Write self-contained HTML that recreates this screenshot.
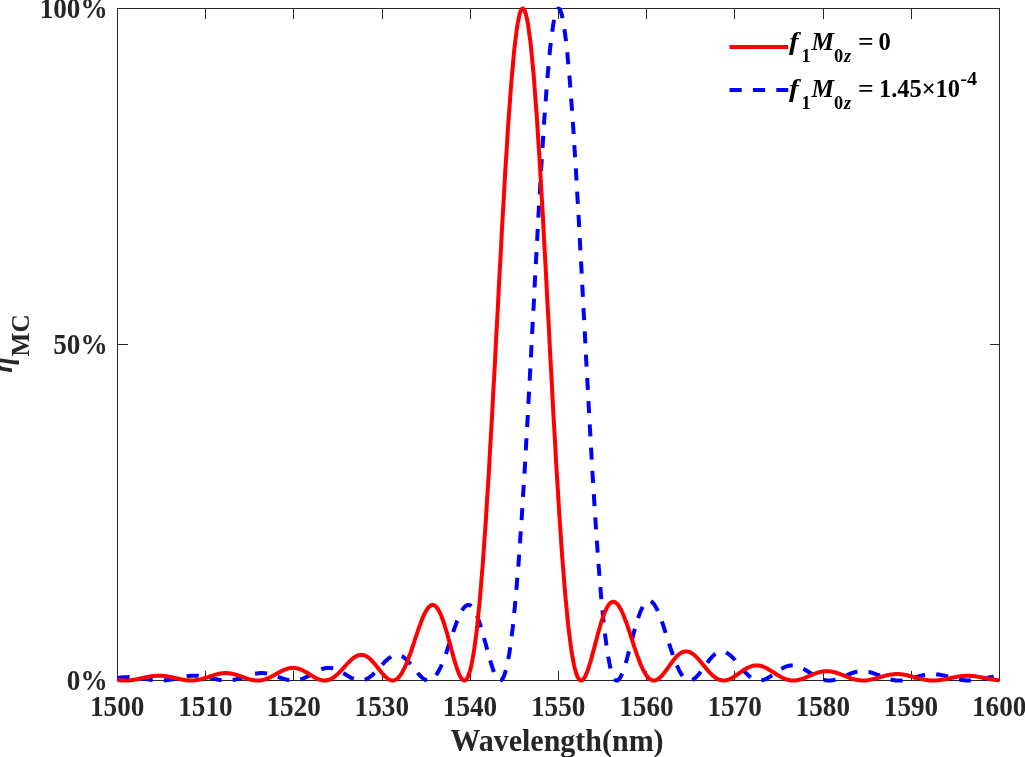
<!DOCTYPE html>
<html lang="en"><head><meta charset="utf-8"><title>Mode conversion efficiency vs wavelength</title>
<style>html,body{margin:0;padding:0;background:#fff;overflow:hidden}svg{display:block}text{font-family:"Liberation Serif",serif;font-weight:bold;fill:#262626}.i{font-style:italic}</style></head><body>
<svg width="1025" height="757" viewBox="0 0 1025 757">
<rect width="1025" height="757" fill="#fff"/>
<defs><clipPath id="cp"><rect x="115.5" y="5.5" width="884.5" height="678.0"/></clipPath></defs>
<g stroke="#262626" stroke-width="1" fill="none" shape-rendering="crispEdges">
<rect x="117.5" y="8.5" width="882.0" height="672.0"/>
<path d="M205.5,680.5v-10 M205.5,8.5v10 M293.5,680.5v-10 M293.5,8.5v10 M382.5,680.5v-10 M382.5,8.5v10 M470.5,680.5v-10 M470.5,8.5v10 M558.5,680.5v-10 M558.5,8.5v10 M646.5,680.5v-10 M646.5,8.5v10 M734.5,680.5v-10 M734.5,8.5v10 M823.5,680.5v-10 M823.5,8.5v10 M911.5,680.5v-10 M911.5,8.5v10 M117.5,344.5h10 M999.5,344.5h-10"/>
</g>
<g fill="none" stroke-width="4" stroke-linejoin="round" clip-path="url(#cp)">
<path stroke="#0000ff" stroke-dasharray="12.1 11.2" d="M117.5,678.0 L118.2,677.9 L119.0,677.8 L119.8,677.7 L120.5,677.6 L121.2,677.6 L122.0,677.5 L122.8,677.4 L123.5,677.3 L124.2,677.3 L125.0,677.3 L125.8,677.2 L126.5,677.2 L127.2,677.2 L128.0,677.2 L128.8,677.1 L129.5,677.2 L130.2,677.2 L131.0,677.2 L131.8,677.2 L132.5,677.3 L133.2,677.3 L134.0,677.4 L134.8,677.4 L135.5,677.5 L136.2,677.6 L137.0,677.7 L137.8,677.7 L138.5,677.8 L139.2,677.9 L140.0,678.0 L140.8,678.2 L141.5,678.3 L142.2,678.4 L143.0,678.5 L143.8,678.6 L144.5,678.7 L145.2,678.9 L146.0,679.0 L146.8,679.1 L147.5,679.2 L148.2,679.4 L149.0,679.5 L149.8,679.6 L150.5,679.7 L151.2,679.8 L152.0,679.9 L152.8,680.0 L153.5,680.1 L154.2,680.2 L155.0,680.2 L155.8,680.3 L156.5,680.4 L157.2,680.4 L158.0,680.4 L158.8,680.5 L159.5,680.5 L160.2,680.5 L161.0,680.5 L161.8,680.5 L162.5,680.5 L163.2,680.4 L164.0,680.4 L164.8,680.3 L165.5,680.3 L166.2,680.2 L167.0,680.1 L167.8,680.0 L168.5,679.9 L169.2,679.8 L170.0,679.7 L170.8,679.6 L171.5,679.5 L172.2,679.3 L173.0,679.2 L173.8,679.0 L174.5,678.9 L175.2,678.7 L176.0,678.6 L176.8,678.4 L177.5,678.2 L178.2,678.1 L179.0,677.9 L179.8,677.7 L180.5,677.6 L181.2,677.4 L182.0,677.2 L182.8,677.1 L183.5,676.9 L184.2,676.8 L185.0,676.7 L185.8,676.5 L186.5,676.4 L187.2,676.3 L188.0,676.2 L188.8,676.1 L189.5,676.0 L190.2,675.9 L191.0,675.8 L191.8,675.8 L192.5,675.7 L193.2,675.7 L194.0,675.7 L194.8,675.7 L195.5,675.7 L196.2,675.7 L197.0,675.7 L197.8,675.8 L198.5,675.8 L199.2,675.9 L200.0,676.0 L200.8,676.0 L201.5,676.1 L202.2,676.2 L203.0,676.4 L203.8,676.5 L204.5,676.6 L205.2,676.8 L206.0,676.9 L206.8,677.1 L207.5,677.2 L208.2,677.4 L209.0,677.6 L209.8,677.7 L210.5,677.9 L211.2,678.1 L212.0,678.3 L212.8,678.5 L213.5,678.6 L214.2,678.8 L215.0,679.0 L215.8,679.1 L216.5,679.3 L217.2,679.5 L218.0,679.6 L218.8,679.7 L219.5,679.9 L220.2,680.0 L221.0,680.1 L221.8,680.2 L222.5,680.3 L223.2,680.3 L224.0,680.4 L224.8,680.4 L225.5,680.5 L226.2,680.5 L227.0,680.5 L227.8,680.5 L228.5,680.5 L229.2,680.4 L230.0,680.4 L230.8,680.3 L231.5,680.2 L232.2,680.1 L233.0,680.0 L233.8,679.8 L234.5,679.7 L235.2,679.5 L236.0,679.4 L236.8,679.2 L237.5,679.0 L238.2,678.8 L239.0,678.6 L239.8,678.4 L240.5,678.1 L241.2,677.9 L242.0,677.7 L242.8,677.4 L243.5,677.2 L244.2,676.9 L245.0,676.7 L245.8,676.4 L246.5,676.2 L247.2,675.9 L248.0,675.7 L248.8,675.4 L249.5,675.2 L250.2,675.0 L251.0,674.7 L251.8,674.5 L252.5,674.3 L253.2,674.1 L254.0,674.0 L254.8,673.8 L255.5,673.7 L256.2,673.5 L257.0,673.4 L257.8,673.3 L258.5,673.2 L259.2,673.2 L260.0,673.1 L260.8,673.1 L261.5,673.1 L262.2,673.1 L263.0,673.1 L263.8,673.2 L264.5,673.2 L265.2,673.3 L266.0,673.4 L266.8,673.5 L267.5,673.7 L268.2,673.8 L269.0,674.0 L269.8,674.2 L270.5,674.4 L271.2,674.6 L272.0,674.8 L272.8,675.0 L273.5,675.3 L274.2,675.5 L275.0,675.8 L275.8,676.0 L276.5,676.3 L277.2,676.6 L278.0,676.9 L278.8,677.1 L279.5,677.4 L280.2,677.7 L281.0,677.9 L281.8,678.2 L282.5,678.5 L283.2,678.7 L284.0,678.9 L284.8,679.2 L285.5,679.4 L286.2,679.6 L287.0,679.7 L287.8,679.9 L288.5,680.1 L289.2,680.2 L290.0,680.3 L290.8,680.4 L291.5,680.4 L292.2,680.5 L293.0,680.5 L293.8,680.5 L294.5,680.5 L295.2,680.4 L296.0,680.3 L296.8,680.2 L297.5,680.1 L298.2,680.0 L299.0,679.8 L299.8,679.6 L300.5,679.4 L301.2,679.1 L302.0,678.9 L302.8,678.6 L303.5,678.3 L304.2,678.0 L305.0,677.6 L305.8,677.3 L306.5,676.9 L307.2,676.5 L308.0,676.1 L308.8,675.7 L309.5,675.3 L310.2,674.9 L311.0,674.5 L311.8,674.1 L312.5,673.7 L313.2,673.2 L314.0,672.8 L314.8,672.4 L315.5,672.0 L316.2,671.6 L317.0,671.2 L317.8,670.9 L318.5,670.5 L319.2,670.2 L320.0,669.8 L320.8,669.5 L321.5,669.2 L322.2,669.0 L323.0,668.7 L323.8,668.5 L324.5,668.4 L325.2,668.2 L326.0,668.1 L326.8,668.0 L327.5,667.9 L328.2,667.9 L329.0,667.9 L329.8,667.9 L330.5,668.0 L331.2,668.0 L332.0,668.2 L332.8,668.3 L333.5,668.5 L334.2,668.7 L335.0,668.9 L335.8,669.2 L336.5,669.5 L337.2,669.8 L338.0,670.2 L338.8,670.5 L339.5,670.9 L340.2,671.3 L341.0,671.7 L341.8,672.2 L342.5,672.6 L343.2,673.1 L344.0,673.5 L344.8,674.0 L345.5,674.4 L346.2,674.9 L347.0,675.4 L347.8,675.8 L348.5,676.3 L349.2,676.7 L350.0,677.2 L350.8,677.6 L351.5,678.0 L352.2,678.4 L353.0,678.7 L353.8,679.0 L354.5,679.3 L355.2,679.6 L356.0,679.8 L356.8,680.0 L357.5,680.2 L358.2,680.3 L359.0,680.4 L359.8,680.5 L360.5,680.5 L361.2,680.5 L362.0,680.4 L362.8,680.3 L363.5,680.1 L364.2,679.9 L365.0,679.6 L365.8,679.4 L366.5,679.0 L367.2,678.6 L368.0,678.2 L368.8,677.7 L369.5,677.2 L370.2,676.7 L371.0,676.1 L371.8,675.5 L372.5,674.8 L373.2,674.1 L374.0,673.4 L374.8,672.7 L375.5,671.9 L376.2,671.2 L377.0,670.4 L377.8,669.6 L378.5,668.7 L379.2,667.9 L380.0,667.1 L380.8,666.2 L381.5,665.4 L382.2,664.6 L383.0,663.8 L383.8,663.0 L384.5,662.2 L385.2,661.5 L386.0,660.7 L386.8,660.0 L387.5,659.4 L388.2,658.7 L389.0,658.1 L389.8,657.6 L390.5,657.1 L391.2,656.6 L392.0,656.2 L392.8,655.8 L393.5,655.5 L394.2,655.3 L395.0,655.1 L395.8,654.9 L396.5,654.9 L397.2,654.9 L398.0,654.9 L398.8,655.0 L399.5,655.2 L400.2,655.4 L401.0,655.7 L401.8,656.1 L402.5,656.5 L403.2,657.0 L404.0,657.5 L404.8,658.1 L405.5,658.7 L406.2,659.4 L407.0,660.1 L407.8,660.9 L408.5,661.7 L409.2,662.5 L410.0,663.4 L410.8,664.3 L411.5,665.2 L412.2,666.1 L413.0,667.1 L413.8,668.0 L414.5,669.0 L415.2,670.0 L416.0,670.9 L416.8,671.8 L417.5,672.7 L418.2,673.6 L419.0,674.5 L419.8,675.3 L420.5,676.1 L421.2,676.8 L422.0,677.5 L422.8,678.1 L423.5,678.7 L424.2,679.2 L425.0,679.6 L425.8,680.0 L426.5,680.2 L427.2,680.4 L428.0,680.5 L428.8,680.5 L429.5,680.4 L430.2,680.2 L431.0,679.9 L431.8,679.5 L432.5,679.0 L433.2,678.4 L434.0,677.7 L434.8,676.9 L435.5,676.0 L436.2,675.0 L437.0,673.8 L437.8,672.6 L438.5,671.3 L439.2,669.9 L440.0,668.4 L440.8,666.8 L441.5,665.1 L442.2,663.3 L443.0,661.5 L443.8,659.5 L444.5,657.6 L445.2,655.5 L446.0,653.4 L446.8,651.3 L447.5,649.1 L448.2,646.9 L449.0,644.6 L449.8,642.4 L450.5,640.1 L451.2,637.8 L452.0,635.6 L452.8,633.3 L453.5,631.1 L454.2,629.0 L455.0,626.8 L455.8,624.7 L456.5,622.7 L457.2,620.8 L458.0,618.9 L458.8,617.1 L459.5,615.4 L460.2,613.8 L461.0,612.3 L461.8,611.0 L462.5,609.7 L463.2,608.6 L464.0,607.6 L464.8,606.8 L465.5,606.1 L466.2,605.6 L467.0,605.2 L467.8,605.0 L468.5,605.0 L469.2,605.1 L470.0,605.3 L470.8,605.8 L471.5,606.4 L472.2,607.2 L473.0,608.1 L473.8,609.2 L474.5,610.5 L475.2,611.9 L476.0,613.5 L476.8,615.2 L477.5,617.1 L478.2,619.1 L479.0,621.2 L479.8,623.5 L480.5,625.8 L481.2,628.2 L482.0,630.8 L482.8,633.4 L483.5,636.0 L484.2,638.8 L485.0,641.5 L485.8,644.3 L486.5,647.1 L487.2,649.9 L488.0,652.6 L488.8,655.4 L489.5,658.0 L490.2,660.7 L491.0,663.2 L491.8,665.6 L492.5,667.9 L493.2,670.0 L494.0,672.1 L494.8,673.9 L495.5,675.5 L496.2,677.0 L497.0,678.2 L497.8,679.2 L498.5,679.9 L499.2,680.3 L500.0,680.5 L500.8,680.4 L501.5,679.9 L502.2,679.1 L503.0,678.0 L503.8,676.5 L504.5,674.6 L505.2,672.4 L506.0,669.7 L506.8,666.7 L507.5,663.2 L508.2,659.4 L509.0,655.1 L509.8,650.4 L510.5,645.2 L511.2,639.7 L512.0,633.6 L512.8,627.2 L513.5,620.3 L514.2,612.9 L515.0,605.2 L515.8,597.0 L516.5,588.3 L517.2,579.3 L518.0,569.9 L518.8,560.0 L519.5,549.8 L520.2,539.1 L521.0,528.2 L521.8,516.8 L522.5,505.2 L523.2,493.2 L524.0,480.9 L524.8,468.3 L525.5,455.5 L526.2,442.4 L527.0,429.1 L527.8,415.6 L528.5,401.9 L529.2,388.0 L530.0,374.1 L530.8,360.0 L531.5,345.9 L532.2,331.7 L533.0,317.5 L533.8,303.3 L534.5,289.1 L535.2,275.0 L536.0,261.0 L536.8,247.0 L537.5,233.3 L538.2,219.7 L539.0,206.3 L539.8,193.2 L540.5,180.3 L541.2,167.7 L542.0,155.4 L542.8,143.4 L543.5,131.8 L544.2,120.6 L545.0,109.9 L545.8,99.5 L546.5,89.6 L547.2,80.2 L548.0,71.3 L548.8,62.9 L549.5,55.1 L550.2,47.8 L551.0,41.1 L551.8,35.0 L552.5,29.5 L553.2,24.7 L554.0,20.4 L554.8,16.8 L555.5,13.8 L556.2,11.5 L557.0,9.8 L557.8,8.8 L558.5,8.5 L559.2,8.8 L560.0,9.8 L560.8,11.5 L561.5,13.8 L562.2,16.8 L563.0,20.4 L563.8,24.7 L564.5,29.5 L565.2,35.0 L566.0,41.1 L566.8,47.8 L567.5,55.1 L568.2,63.0 L569.0,71.3 L569.8,80.2 L570.5,89.6 L571.2,99.5 L572.0,109.9 L572.8,120.7 L573.5,131.9 L574.2,143.5 L575.0,155.4 L575.8,167.7 L576.5,180.4 L577.2,193.3 L578.0,206.4 L578.8,219.8 L579.5,233.4 L580.2,247.2 L581.0,261.1 L581.8,275.1 L582.5,289.3 L583.2,303.5 L584.0,317.7 L584.8,331.9 L585.5,346.1 L586.2,360.3 L587.0,374.4 L587.8,388.3 L588.5,402.2 L589.2,415.9 L590.0,429.4 L590.8,442.7 L591.5,455.9 L592.2,468.7 L593.0,481.3 L593.8,493.6 L594.5,505.6 L595.2,517.3 L596.0,528.7 L596.8,539.7 L597.5,550.3 L598.2,560.6 L599.0,570.4 L599.8,579.9 L600.5,588.9 L601.2,597.6 L602.0,605.8 L602.8,613.5 L603.5,620.9 L604.2,627.8 L605.0,634.2 L605.8,640.2 L606.5,645.8 L607.2,650.9 L608.0,655.6 L608.8,659.9 L609.5,663.7 L610.2,667.1 L611.0,670.1 L611.8,672.7 L612.5,674.9 L613.2,676.8 L614.0,678.2 L614.8,679.3 L615.5,680.0 L616.2,680.4 L617.0,680.5 L617.8,680.3 L618.5,679.7 L619.2,678.9 L620.0,677.9 L620.8,676.6 L621.5,675.1 L622.2,673.3 L623.0,671.4 L623.8,669.3 L624.5,667.0 L625.2,664.6 L626.0,662.1 L626.8,659.5 L627.5,656.8 L628.2,654.0 L629.0,651.2 L629.8,648.3 L630.5,645.4 L631.2,642.5 L632.0,639.6 L632.8,636.8 L633.5,633.9 L634.2,631.2 L635.0,628.4 L635.8,625.8 L636.5,623.3 L637.2,620.8 L638.0,618.5 L638.8,616.2 L639.5,614.1 L640.2,612.2 L641.0,610.3 L641.8,608.6 L642.5,607.1 L643.2,605.7 L644.0,604.5 L644.8,603.5 L645.5,602.6 L646.2,601.9 L647.0,601.3 L647.8,601.0 L648.5,600.8 L649.2,600.7 L650.0,600.8 L650.8,601.1 L651.5,601.6 L652.2,602.2 L653.0,603.0 L653.8,603.9 L654.5,604.9 L655.2,606.1 L656.0,607.4 L656.8,608.9 L657.5,610.4 L658.2,612.1 L659.0,613.9 L659.8,615.8 L660.5,617.7 L661.2,619.8 L662.0,621.9 L662.8,624.0 L663.5,626.3 L664.2,628.5 L665.0,630.8 L665.8,633.2 L666.5,635.5 L667.2,637.9 L668.0,640.2 L668.8,642.6 L669.5,644.9 L670.2,647.2 L671.0,649.5 L671.8,651.7 L672.5,653.9 L673.2,656.1 L674.0,658.1 L674.8,660.2 L675.5,662.1 L676.2,664.0 L677.0,665.7 L677.8,667.4 L678.5,669.0 L679.2,670.5 L680.0,671.9 L680.8,673.2 L681.5,674.4 L682.2,675.5 L683.0,676.5 L683.8,677.4 L684.5,678.1 L685.2,678.8 L686.0,679.4 L686.8,679.8 L687.5,680.1 L688.2,680.3 L689.0,680.5 L689.8,680.5 L690.5,680.4 L691.2,680.3 L692.0,680.0 L692.8,679.6 L693.5,679.2 L694.2,678.7 L695.0,678.1 L695.8,677.5 L696.5,676.8 L697.2,676.0 L698.0,675.1 L698.8,674.3 L699.5,673.4 L700.2,672.4 L701.0,671.4 L701.8,670.4 L702.5,669.4 L703.2,668.3 L704.0,667.3 L704.8,666.2 L705.5,665.2 L706.2,664.1 L707.0,663.1 L707.8,662.1 L708.5,661.1 L709.2,660.1 L710.0,659.2 L710.8,658.3 L711.5,657.5 L712.2,656.7 L713.0,655.9 L713.8,655.2 L714.5,654.5 L715.2,653.9 L716.0,653.4 L716.8,652.9 L717.5,652.5 L718.2,652.2 L719.0,651.9 L719.8,651.7 L720.5,651.5 L721.2,651.4 L722.0,651.4 L722.8,651.5 L723.5,651.6 L724.2,651.8 L725.0,652.0 L725.8,652.3 L726.5,652.7 L727.2,653.1 L728.0,653.6 L728.8,654.1 L729.5,654.7 L730.2,655.3 L731.0,656.0 L731.8,656.7 L732.5,657.4 L733.2,658.2 L734.0,659.0 L734.8,659.9 L735.5,660.7 L736.2,661.6 L737.0,662.5 L737.8,663.4 L738.5,664.3 L739.2,665.2 L740.0,666.2 L740.8,667.1 L741.5,668.0 L742.2,668.9 L743.0,669.8 L743.8,670.6 L744.5,671.5 L745.2,672.3 L746.0,673.1 L746.8,673.8 L747.5,674.6 L748.2,675.3 L749.0,675.9 L749.8,676.6 L750.5,677.1 L751.2,677.7 L752.0,678.2 L752.8,678.6 L753.5,679.0 L754.2,679.4 L755.0,679.7 L755.8,679.9 L756.5,680.1 L757.2,680.3 L758.0,680.4 L758.8,680.5 L759.5,680.5 L760.2,680.5 L761.0,680.4 L761.8,680.3 L762.5,680.1 L763.2,679.9 L764.0,679.7 L764.8,679.4 L765.5,679.1 L766.2,678.8 L767.0,678.4 L767.8,678.0 L768.5,677.6 L769.2,677.1 L770.0,676.6 L770.8,676.1 L771.5,675.6 L772.2,675.1 L773.0,674.6 L773.8,674.1 L774.5,673.5 L775.2,673.0 L776.0,672.4 L776.8,671.9 L777.5,671.4 L778.2,670.9 L779.0,670.4 L779.8,669.9 L780.5,669.4 L781.2,668.9 L782.0,668.5 L782.8,668.1 L783.5,667.7 L784.2,667.3 L785.0,667.0 L785.8,666.7 L786.5,666.4 L787.2,666.2 L788.0,666.0 L788.8,665.8 L789.5,665.6 L790.2,665.5 L791.0,665.4 L791.8,665.4 L792.5,665.4 L793.2,665.4 L794.0,665.5 L794.8,665.6 L795.5,665.7 L796.2,665.9 L797.0,666.1 L797.8,666.3 L798.5,666.5 L799.2,666.8 L800.0,667.1 L800.8,667.5 L801.5,667.8 L802.2,668.2 L803.0,668.6 L803.8,669.0 L804.5,669.4 L805.2,669.9 L806.0,670.3 L806.8,670.8 L807.5,671.3 L808.2,671.7 L809.0,672.2 L809.8,672.7 L810.5,673.2 L811.2,673.7 L812.0,674.2 L812.8,674.6 L813.5,675.1 L814.2,675.6 L815.0,676.0 L815.8,676.4 L816.5,676.9 L817.2,677.3 L818.0,677.6 L818.8,678.0 L819.5,678.3 L820.2,678.7 L821.0,679.0 L821.8,679.2 L822.5,679.5 L823.2,679.7 L824.0,679.9 L824.8,680.1 L825.5,680.2 L826.2,680.3 L827.0,680.4 L827.8,680.5 L828.5,680.5 L829.2,680.5 L830.0,680.5 L830.8,680.4 L831.5,680.4 L832.2,680.3 L833.0,680.1 L833.8,680.0 L834.5,679.8 L835.2,679.6 L836.0,679.4 L836.8,679.2 L837.5,679.0 L838.2,678.7 L839.0,678.4 L839.8,678.2 L840.5,677.9 L841.2,677.6 L842.0,677.3 L842.8,676.9 L843.5,676.6 L844.2,676.3 L845.0,676.0 L845.8,675.6 L846.5,675.3 L847.2,675.0 L848.0,674.7 L848.8,674.3 L849.5,674.0 L850.2,673.7 L851.0,673.5 L851.8,673.2 L852.5,672.9 L853.2,672.7 L854.0,672.5 L854.8,672.2 L855.5,672.0 L856.2,671.9 L857.0,671.7 L857.8,671.6 L858.5,671.4 L859.2,671.3 L860.0,671.3 L860.8,671.2 L861.5,671.2 L862.2,671.2 L863.0,671.2 L863.8,671.2 L864.5,671.2 L865.2,671.3 L866.0,671.4 L866.8,671.5 L867.5,671.6 L868.2,671.8 L869.0,671.9 L869.8,672.1 L870.5,672.3 L871.2,672.5 L872.0,672.8 L872.8,673.0 L873.5,673.3 L874.2,673.5 L875.0,673.8 L875.8,674.1 L876.5,674.4 L877.2,674.6 L878.0,674.9 L878.8,675.2 L879.5,675.5 L880.2,675.8 L881.0,676.2 L881.8,676.5 L882.5,676.8 L883.2,677.0 L884.0,677.3 L884.8,677.6 L885.5,677.9 L886.2,678.1 L887.0,678.4 L887.8,678.6 L888.5,678.9 L889.2,679.1 L890.0,679.3 L890.8,679.5 L891.5,679.7 L892.2,679.8 L893.0,680.0 L893.8,680.1 L894.5,680.2 L895.2,680.3 L896.0,680.4 L896.8,680.4 L897.5,680.5 L898.2,680.5 L899.0,680.5 L899.8,680.5 L900.5,680.5 L901.2,680.4 L902.0,680.4 L902.8,680.3 L903.5,680.2 L904.2,680.1 L905.0,680.0 L905.8,679.8 L906.5,679.7 L907.2,679.5 L908.0,679.3 L908.8,679.2 L909.5,679.0 L910.2,678.8 L911.0,678.6 L911.8,678.4 L912.5,678.2 L913.2,677.9 L914.0,677.7 L914.8,677.5 L915.5,677.3 L916.2,677.1 L917.0,676.8 L917.8,676.6 L918.5,676.4 L919.2,676.2 L920.0,676.0 L920.8,675.8 L921.5,675.6 L922.2,675.4 L923.0,675.2 L923.8,675.1 L924.5,674.9 L925.2,674.8 L926.0,674.7 L926.8,674.5 L927.5,674.4 L928.2,674.3 L929.0,674.3 L929.8,674.2 L930.5,674.2 L931.2,674.1 L932.0,674.1 L932.8,674.1 L933.5,674.1 L934.2,674.1 L935.0,674.2 L935.8,674.2 L936.5,674.3 L937.2,674.4 L938.0,674.4 L938.8,674.5 L939.5,674.7 L940.2,674.8 L941.0,674.9 L941.8,675.1 L942.5,675.2 L943.2,675.4 L944.0,675.6 L944.8,675.7 L945.5,675.9 L946.2,676.1 L947.0,676.3 L947.8,676.5 L948.5,676.7 L949.2,676.9 L950.0,677.1 L950.8,677.4 L951.5,677.6 L952.2,677.8 L953.0,678.0 L953.8,678.2 L954.5,678.4 L955.2,678.6 L956.0,678.7 L956.8,678.9 L957.5,679.1 L958.2,679.3 L959.0,679.4 L959.8,679.6 L960.5,679.7 L961.2,679.8 L962.0,680.0 L962.8,680.1 L963.5,680.2 L964.2,680.2 L965.0,680.3 L965.8,680.4 L966.5,680.4 L967.2,680.5 L968.0,680.5 L968.8,680.5 L969.5,680.5 L970.2,680.5 L971.0,680.5 L971.8,680.4 L972.5,680.4 L973.2,680.3 L974.0,680.2 L974.8,680.2 L975.5,680.1 L976.2,680.0 L977.0,679.9 L977.8,679.8 L978.5,679.6 L979.2,679.5 L980.0,679.4 L980.8,679.2 L981.5,679.1 L982.2,678.9 L983.0,678.8 L983.8,678.6 L984.5,678.5 L985.2,678.3 L986.0,678.1 L986.8,678.0 L987.5,677.8 L988.2,677.7 L989.0,677.5 L989.8,677.3 L990.5,677.2 L991.2,677.1 L992.0,676.9 L992.8,676.8 L993.5,676.7 L994.2,676.5 L995.0,676.4 L995.8,676.3 L996.5,676.2 L997.2,676.1 L998.0,676.1 L998.8,676.0 L999.5,675.9"/>
<path stroke="#ff0000" d="M117.5,680.1 L118.2,680.1 L119.0,680.2 L119.8,680.3 L120.5,680.3 L121.2,680.4 L122.0,680.4 L122.8,680.5 L123.5,680.5 L124.2,680.5 L125.0,680.5 L125.8,680.5 L126.5,680.5 L127.2,680.4 L128.0,680.4 L128.8,680.4 L129.5,680.3 L130.2,680.2 L131.0,680.2 L131.8,680.1 L132.5,680.0 L133.2,679.9 L134.0,679.8 L134.8,679.6 L135.5,679.5 L136.2,679.4 L137.0,679.2 L137.8,679.1 L138.5,678.9 L139.2,678.8 L140.0,678.6 L140.8,678.5 L141.5,678.3 L142.2,678.1 L143.0,678.0 L143.8,677.8 L144.5,677.6 L145.2,677.5 L146.0,677.3 L146.8,677.1 L147.5,677.0 L148.2,676.9 L149.0,676.7 L149.8,676.6 L150.5,676.4 L151.2,676.3 L152.0,676.2 L152.8,676.1 L153.5,676.0 L154.2,675.9 L155.0,675.9 L155.8,675.8 L156.5,675.8 L157.2,675.7 L158.0,675.7 L158.8,675.7 L159.5,675.7 L160.2,675.7 L161.0,675.7 L161.8,675.8 L162.5,675.8 L163.2,675.9 L164.0,675.9 L164.8,676.0 L165.5,676.1 L166.2,676.2 L167.0,676.3 L167.8,676.4 L168.5,676.6 L169.2,676.7 L170.0,676.9 L170.8,677.0 L171.5,677.2 L172.2,677.3 L173.0,677.5 L173.8,677.7 L174.5,677.9 L175.2,678.0 L176.0,678.2 L176.8,678.4 L177.5,678.6 L178.2,678.7 L179.0,678.9 L179.8,679.1 L180.5,679.2 L181.2,679.4 L182.0,679.5 L182.8,679.7 L183.5,679.8 L184.2,679.9 L185.0,680.1 L185.8,680.2 L186.5,680.2 L187.2,680.3 L188.0,680.4 L188.8,680.4 L189.5,680.5 L190.2,680.5 L191.0,680.5 L191.8,680.5 L192.5,680.5 L193.2,680.4 L194.0,680.4 L194.8,680.3 L195.5,680.2 L196.2,680.1 L197.0,680.0 L197.8,679.9 L198.5,679.8 L199.2,679.6 L200.0,679.4 L200.8,679.3 L201.5,679.1 L202.2,678.9 L203.0,678.7 L203.8,678.4 L204.5,678.2 L205.2,678.0 L206.0,677.7 L206.8,677.5 L207.5,677.3 L208.2,677.0 L209.0,676.7 L209.8,676.5 L210.5,676.2 L211.2,676.0 L212.0,675.8 L212.8,675.5 L213.5,675.3 L214.2,675.0 L215.0,674.8 L215.8,674.6 L216.5,674.4 L217.2,674.2 L218.0,674.0 L218.8,673.9 L219.5,673.7 L220.2,673.6 L221.0,673.5 L221.8,673.4 L222.5,673.3 L223.2,673.2 L224.0,673.1 L224.8,673.1 L225.5,673.1 L226.2,673.1 L227.0,673.1 L227.8,673.2 L228.5,673.2 L229.2,673.3 L230.0,673.4 L230.8,673.5 L231.5,673.6 L232.2,673.8 L233.0,673.9 L233.8,674.1 L234.5,674.3 L235.2,674.5 L236.0,674.7 L236.8,674.9 L237.5,675.2 L238.2,675.4 L239.0,675.7 L239.8,675.9 L240.5,676.2 L241.2,676.5 L242.0,676.8 L242.8,677.0 L243.5,677.3 L244.2,677.6 L245.0,677.8 L245.8,678.1 L246.5,678.4 L247.2,678.6 L248.0,678.8 L248.8,679.1 L249.5,679.3 L250.2,679.5 L251.0,679.7 L251.8,679.8 L252.5,680.0 L253.2,680.1 L254.0,680.2 L254.8,680.3 L255.5,680.4 L256.2,680.5 L257.0,680.5 L257.8,680.5 L258.5,680.5 L259.2,680.4 L260.0,680.4 L260.8,680.3 L261.5,680.2 L262.2,680.0 L263.0,679.9 L263.8,679.7 L264.5,679.5 L265.2,679.2 L266.0,679.0 L266.8,678.7 L267.5,678.4 L268.2,678.1 L269.0,677.8 L269.8,677.4 L270.5,677.1 L271.2,676.7 L272.0,676.3 L272.8,675.9 L273.5,675.5 L274.2,675.1 L275.0,674.7 L275.8,674.2 L276.5,673.8 L277.2,673.4 L278.0,673.0 L278.8,672.6 L279.5,672.2 L280.2,671.8 L281.0,671.4 L281.8,671.0 L282.5,670.6 L283.2,670.3 L284.0,669.9 L284.8,669.6 L285.5,669.3 L286.2,669.1 L287.0,668.8 L287.8,668.6 L288.5,668.4 L289.2,668.3 L290.0,668.1 L290.8,668.0 L291.5,667.9 L292.2,667.9 L293.0,667.9 L293.8,667.9 L294.5,667.9 L295.2,668.0 L296.0,668.1 L296.8,668.3 L297.5,668.4 L298.2,668.6 L299.0,668.9 L299.8,669.1 L300.5,669.4 L301.2,669.7 L302.0,670.0 L302.8,670.4 L303.5,670.8 L304.2,671.2 L305.0,671.6 L305.8,672.0 L306.5,672.4 L307.2,672.9 L308.0,673.3 L308.8,673.8 L309.5,674.3 L310.2,674.7 L311.0,675.2 L311.8,675.7 L312.5,676.1 L313.2,676.6 L314.0,677.0 L314.8,677.4 L315.5,677.8 L316.2,678.2 L317.0,678.6 L317.8,678.9 L318.5,679.2 L319.2,679.5 L320.0,679.8 L320.8,680.0 L321.5,680.2 L322.2,680.3 L323.0,680.4 L323.8,680.5 L324.5,680.5 L325.2,680.5 L326.0,680.4 L326.8,680.3 L327.5,680.2 L328.2,680.0 L329.0,679.7 L329.8,679.5 L330.5,679.1 L331.2,678.8 L332.0,678.4 L332.8,677.9 L333.5,677.4 L334.2,676.9 L335.0,676.3 L335.8,675.7 L336.5,675.1 L337.2,674.4 L338.0,673.7 L338.8,673.0 L339.5,672.2 L340.2,671.5 L341.0,670.7 L341.8,669.9 L342.5,669.0 L343.2,668.2 L344.0,667.4 L344.8,666.6 L345.5,665.7 L346.2,664.9 L347.0,664.1 L347.8,663.3 L348.5,662.5 L349.2,661.7 L350.0,661.0 L350.8,660.3 L351.5,659.6 L352.2,659.0 L353.0,658.3 L353.8,657.8 L354.5,657.2 L355.2,656.8 L356.0,656.3 L356.8,656.0 L357.5,655.6 L358.2,655.4 L359.0,655.1 L359.8,655.0 L360.5,654.9 L361.2,654.8 L362.0,654.9 L362.8,655.0 L363.5,655.1 L364.2,655.3 L365.0,655.6 L365.8,655.9 L366.5,656.3 L367.2,656.8 L368.0,657.3 L368.8,657.8 L369.5,658.5 L370.2,659.1 L371.0,659.8 L371.8,660.6 L372.5,661.4 L373.2,662.2 L374.0,663.1 L374.8,663.9 L375.5,664.9 L376.2,665.8 L377.0,666.7 L377.8,667.7 L378.5,668.6 L379.2,669.6 L380.0,670.6 L380.8,671.5 L381.5,672.4 L382.2,673.3 L383.0,674.2 L383.8,675.0 L384.5,675.8 L385.2,676.6 L386.0,677.3 L386.8,677.9 L387.5,678.5 L388.2,679.0 L389.0,679.5 L389.8,679.8 L390.5,680.1 L391.2,680.3 L392.0,680.5 L392.8,680.5 L393.5,680.4 L394.2,680.3 L395.0,680.0 L395.8,679.7 L396.5,679.2 L397.2,678.7 L398.0,678.0 L398.8,677.2 L399.5,676.3 L400.2,675.4 L401.0,674.3 L401.8,673.1 L402.5,671.8 L403.2,670.4 L404.0,668.9 L404.8,667.4 L405.5,665.7 L406.2,664.0 L407.0,662.2 L407.8,660.3 L408.5,658.3 L409.2,656.3 L410.0,654.2 L410.8,652.1 L411.5,649.9 L412.2,647.7 L413.0,645.5 L413.8,643.2 L414.5,641.0 L415.2,638.7 L416.0,636.4 L416.8,634.2 L417.5,632.0 L418.2,629.8 L419.0,627.6 L419.8,625.5 L420.5,623.5 L421.2,621.5 L422.0,619.6 L422.8,617.7 L423.5,616.0 L424.2,614.4 L425.0,612.9 L425.8,611.4 L426.5,610.2 L427.2,609.0 L428.0,608.0 L428.8,607.1 L429.5,606.4 L430.2,605.8 L431.0,605.3 L431.8,605.1 L432.5,605.0 L433.2,605.0 L434.0,605.2 L434.8,605.6 L435.5,606.2 L436.2,606.9 L437.0,607.8 L437.8,608.8 L438.5,610.0 L439.2,611.4 L440.0,612.9 L440.8,614.6 L441.5,616.4 L442.2,618.3 L443.0,620.4 L443.8,622.6 L444.5,624.9 L445.2,627.3 L446.0,629.8 L446.8,632.4 L447.5,635.0 L448.2,637.7 L449.0,640.5 L449.8,643.3 L450.5,646.1 L451.2,648.8 L452.0,651.6 L452.8,654.4 L453.5,657.1 L454.2,659.7 L455.0,662.2 L455.8,664.7 L456.5,667.0 L457.2,669.3 L458.0,671.3 L458.8,673.2 L459.5,674.9 L460.2,676.5 L461.0,677.8 L461.8,678.8 L462.5,679.7 L463.2,680.2 L464.0,680.5 L464.8,680.4 L465.5,680.1 L466.2,679.4 L467.0,678.4 L467.8,677.1 L468.5,675.3 L469.2,673.2 L470.0,670.8 L470.8,667.9 L471.5,664.6 L472.2,660.9 L473.0,656.7 L473.8,652.2 L474.5,647.2 L475.2,641.8 L476.0,635.9 L476.8,629.6 L477.5,622.9 L478.2,615.7 L479.0,608.1 L479.8,600.1 L480.5,591.6 L481.2,582.7 L482.0,573.4 L482.8,563.7 L483.5,553.6 L484.2,543.1 L485.0,532.3 L485.8,521.1 L486.5,509.5 L487.2,497.7 L488.0,485.5 L488.8,473.0 L489.5,460.3 L490.2,447.3 L491.0,434.0 L491.8,420.6 L492.5,407.0 L493.2,393.2 L494.0,379.3 L494.8,365.2 L495.5,351.1 L496.2,337.0 L497.0,322.8 L497.8,308.5 L498.5,294.4 L499.2,280.2 L500.0,266.2 L500.8,252.2 L501.5,238.4 L502.2,224.7 L503.0,211.3 L503.8,198.0 L504.5,185.0 L505.2,172.3 L506.0,159.9 L506.8,147.8 L507.5,136.1 L508.2,124.8 L509.0,113.8 L509.8,103.3 L510.5,93.2 L511.2,83.7 L512.0,74.6 L512.8,66.0 L513.5,58.0 L514.2,50.5 L515.0,43.6 L515.8,37.2 L516.5,31.5 L517.2,26.4 L518.0,21.9 L518.8,18.0 L519.5,14.8 L520.2,12.3 L521.0,10.4 L521.8,9.1 L522.5,8.5 L523.2,8.6 L524.0,9.4 L524.8,10.8 L525.5,12.9 L526.2,15.6 L527.0,19.0 L527.8,23.0 L528.5,27.6 L529.2,32.9 L530.0,38.8 L530.8,45.3 L531.5,52.4 L532.2,60.0 L533.0,68.2 L533.8,76.9 L534.5,86.1 L535.2,95.8 L536.0,106.0 L536.8,116.6 L537.5,127.7 L538.2,139.1 L539.0,151.0 L539.8,163.1 L540.5,175.6 L541.2,188.4 L542.0,201.5 L542.8,214.8 L543.5,228.3 L544.2,242.1 L545.0,255.9 L545.8,269.9 L546.5,284.0 L547.2,298.2 L548.0,312.4 L548.8,326.6 L549.5,340.9 L550.2,355.0 L551.0,369.2 L551.8,383.2 L552.5,397.1 L553.2,410.8 L554.0,424.4 L554.8,437.9 L555.5,451.0 L556.2,464.0 L557.0,476.7 L557.8,489.1 L558.5,501.3 L559.2,513.1 L560.0,524.5 L560.8,535.7 L561.5,546.5 L562.2,556.9 L563.0,566.9 L563.8,576.5 L564.5,585.7 L565.2,594.5 L566.0,602.8 L566.8,610.8 L567.5,618.2 L568.2,625.3 L569.0,631.9 L569.8,638.1 L570.5,643.8 L571.2,649.1 L572.0,654.0 L572.8,658.4 L573.5,662.4 L574.2,665.9 L575.0,669.1 L575.8,671.8 L576.5,674.2 L577.2,676.1 L578.0,677.7 L578.8,678.9 L579.5,679.8 L580.2,680.3 L581.0,680.5 L581.8,680.4 L582.5,680.0 L583.2,679.3 L584.0,678.3 L584.8,677.1 L585.5,675.7 L586.2,674.0 L587.0,672.2 L587.8,670.1 L588.5,668.0 L589.2,665.6 L590.0,663.2 L590.8,660.6 L591.5,658.0 L592.2,655.2 L593.0,652.4 L593.8,649.6 L594.5,646.8 L595.2,643.9 L596.0,641.0 L596.8,638.2 L597.5,635.4 L598.2,632.6 L599.0,629.9 L599.8,627.3 L600.5,624.8 L601.2,622.3 L602.0,620.0 L602.8,617.7 L603.5,615.6 L604.2,613.6 L605.0,611.8 L605.8,610.1 L606.5,608.5 L607.2,607.1 L608.0,605.9 L608.8,604.8 L609.5,603.9 L610.2,603.1 L611.0,602.5 L611.8,602.1 L612.5,601.9 L613.2,601.8 L614.0,601.8 L614.8,602.1 L615.5,602.4 L616.2,603.0 L617.0,603.7 L617.8,604.5 L618.5,605.5 L619.2,606.6 L620.0,607.9 L620.8,609.2 L621.5,610.7 L622.2,612.3 L623.0,614.0 L623.8,615.8 L624.5,617.7 L625.2,619.7 L626.0,621.7 L626.8,623.8 L627.5,626.0 L628.2,628.2 L629.0,630.5 L629.8,632.8 L630.5,635.1 L631.2,637.4 L632.0,639.7 L632.8,642.0 L633.5,644.3 L634.2,646.6 L635.0,648.9 L635.8,651.1 L636.5,653.3 L637.2,655.4 L638.0,657.5 L638.8,659.5 L639.5,661.5 L640.2,663.4 L641.0,665.2 L641.8,666.9 L642.5,668.5 L643.2,670.0 L644.0,671.5 L644.8,672.8 L645.5,674.0 L646.2,675.2 L647.0,676.2 L647.8,677.1 L648.5,677.9 L649.2,678.6 L650.0,679.2 L650.8,679.6 L651.5,680.0 L652.2,680.3 L653.0,680.4 L653.8,680.5 L654.5,680.5 L655.2,680.3 L656.0,680.1 L656.8,679.8 L657.5,679.4 L658.2,678.9 L659.0,678.3 L659.8,677.7 L660.5,677.0 L661.2,676.3 L662.0,675.5 L662.8,674.6 L663.5,673.7 L664.2,672.8 L665.0,671.8 L665.8,670.8 L666.5,669.8 L667.2,668.7 L668.0,667.7 L668.8,666.6 L669.5,665.6 L670.2,664.5 L671.0,663.5 L671.8,662.5 L672.5,661.5 L673.2,660.5 L674.0,659.5 L674.8,658.6 L675.5,657.8 L676.2,657.0 L677.0,656.2 L677.8,655.4 L678.5,654.8 L679.2,654.2 L680.0,653.6 L680.8,653.1 L681.5,652.7 L682.2,652.3 L683.0,652.0 L683.8,651.8 L684.5,651.6 L685.2,651.5 L686.0,651.4 L686.8,651.5 L687.5,651.5 L688.2,651.7 L689.0,651.9 L689.8,652.2 L690.5,652.5 L691.2,652.9 L692.0,653.4 L692.8,653.9 L693.5,654.5 L694.2,655.1 L695.0,655.7 L695.8,656.4 L696.5,657.1 L697.2,657.9 L698.0,658.7 L698.8,659.5 L699.5,660.4 L700.2,661.3 L701.0,662.2 L701.8,663.1 L702.5,664.0 L703.2,664.9 L704.0,665.8 L704.8,666.7 L705.5,667.6 L706.2,668.5 L707.0,669.4 L707.8,670.3 L708.5,671.2 L709.2,672.0 L710.0,672.8 L710.8,673.6 L711.5,674.3 L712.2,675.0 L713.0,675.7 L713.8,676.3 L714.5,676.9 L715.2,677.5 L716.0,678.0 L716.8,678.5 L717.5,678.9 L718.2,679.2 L719.0,679.6 L719.8,679.8 L720.5,680.1 L721.2,680.2 L722.0,680.4 L722.8,680.5 L723.5,680.5 L724.2,680.5 L725.0,680.4 L725.8,680.3 L726.5,680.2 L727.2,680.0 L728.0,679.8 L728.8,679.5 L729.5,679.2 L730.2,678.9 L731.0,678.5 L731.8,678.1 L732.5,677.7 L733.2,677.3 L734.0,676.8 L734.8,676.3 L735.5,675.8 L736.2,675.3 L737.0,674.8 L737.8,674.3 L738.5,673.7 L739.2,673.2 L740.0,672.6 L740.8,672.1 L741.5,671.6 L742.2,671.1 L743.0,670.6 L743.8,670.1 L744.5,669.6 L745.2,669.1 L746.0,668.7 L746.8,668.2 L747.5,667.8 L748.2,667.5 L749.0,667.1 L749.8,666.8 L750.5,666.5 L751.2,666.3 L752.0,666.0 L752.8,665.8 L753.5,665.7 L754.2,665.6 L755.0,665.5 L755.8,665.4 L756.5,665.4 L757.2,665.4 L758.0,665.5 L758.8,665.5 L759.5,665.7 L760.2,665.8 L761.0,666.0 L761.8,666.2 L762.5,666.4 L763.2,666.7 L764.0,667.0 L764.8,667.3 L765.5,667.7 L766.2,668.0 L767.0,668.4 L767.8,668.8 L768.5,669.3 L769.2,669.7 L770.0,670.2 L770.8,670.6 L771.5,671.1 L772.2,671.6 L773.0,672.1 L773.8,672.5 L774.5,673.0 L775.2,673.5 L776.0,674.0 L776.8,674.5 L777.5,674.9 L778.2,675.4 L779.0,675.9 L779.8,676.3 L780.5,676.7 L781.2,677.1 L782.0,677.5 L782.8,677.9 L783.5,678.2 L784.2,678.5 L785.0,678.9 L785.8,679.1 L786.5,679.4 L787.2,679.6 L788.0,679.8 L788.8,680.0 L789.5,680.2 L790.2,680.3 L791.0,680.4 L791.8,680.4 L792.5,680.5 L793.2,680.5 L794.0,680.5 L794.8,680.5 L795.5,680.4 L796.2,680.3 L797.0,680.2 L797.8,680.1 L798.5,679.9 L799.2,679.7 L800.0,679.5 L800.8,679.3 L801.5,679.1 L802.2,678.8 L803.0,678.6 L803.8,678.3 L804.5,678.0 L805.2,677.7 L806.0,677.4 L806.8,677.1 L807.5,676.7 L808.2,676.4 L809.0,676.1 L809.8,675.7 L810.5,675.4 L811.2,675.1 L812.0,674.8 L812.8,674.5 L813.5,674.2 L814.2,673.9 L815.0,673.6 L815.8,673.3 L816.5,673.0 L817.2,672.8 L818.0,672.5 L818.8,672.3 L819.5,672.1 L820.2,671.9 L821.0,671.8 L821.8,671.6 L822.5,671.5 L823.2,671.4 L824.0,671.3 L824.8,671.2 L825.5,671.2 L826.2,671.2 L827.0,671.2 L827.8,671.2 L828.5,671.2 L829.2,671.3 L830.0,671.4 L830.8,671.5 L831.5,671.6 L832.2,671.7 L833.0,671.9 L833.8,672.1 L834.5,672.2 L835.2,672.5 L836.0,672.7 L836.8,672.9 L837.5,673.2 L838.2,673.4 L839.0,673.7 L839.8,674.0 L840.5,674.2 L841.2,674.5 L842.0,674.8 L842.8,675.1 L843.5,675.4 L844.2,675.7 L845.0,676.0 L845.8,676.3 L846.5,676.6 L847.2,676.9 L848.0,677.2 L848.8,677.5 L849.5,677.8 L850.2,678.1 L851.0,678.3 L851.8,678.6 L852.5,678.8 L853.2,679.0 L854.0,679.2 L854.8,679.4 L855.5,679.6 L856.2,679.8 L857.0,679.9 L857.8,680.0 L858.5,680.2 L859.2,680.3 L860.0,680.3 L860.8,680.4 L861.5,680.5 L862.2,680.5 L863.0,680.5 L863.8,680.5 L864.5,680.5 L865.2,680.4 L866.0,680.4 L866.8,680.3 L867.5,680.2 L868.2,680.1 L869.0,680.0 L869.8,679.9 L870.5,679.7 L871.2,679.6 L872.0,679.4 L872.8,679.2 L873.5,679.0 L874.2,678.9 L875.0,678.7 L875.8,678.4 L876.5,678.2 L877.2,678.0 L878.0,677.8 L878.8,677.6 L879.5,677.4 L880.2,677.1 L881.0,676.9 L881.8,676.7 L882.5,676.5 L883.2,676.3 L884.0,676.1 L884.8,675.9 L885.5,675.7 L886.2,675.5 L887.0,675.3 L887.8,675.1 L888.5,675.0 L889.2,674.8 L890.0,674.7 L890.8,674.6 L891.5,674.5 L892.2,674.4 L893.0,674.3 L893.8,674.2 L894.5,674.2 L895.2,674.1 L896.0,674.1 L896.8,674.1 L897.5,674.1 L898.2,674.1 L899.0,674.1 L899.8,674.2 L900.5,674.3 L901.2,674.3 L902.0,674.4 L902.8,674.5 L903.5,674.6 L904.2,674.7 L905.0,674.9 L905.8,675.0 L906.5,675.2 L907.2,675.3 L908.0,675.5 L908.8,675.7 L909.5,675.9 L910.2,676.1 L911.0,676.3 L911.8,676.5 L912.5,676.7 L913.2,676.9 L914.0,677.1 L914.8,677.3 L915.5,677.5 L916.2,677.7 L917.0,677.9 L917.8,678.1 L918.5,678.3 L919.2,678.5 L920.0,678.7 L920.8,678.9 L921.5,679.0 L922.2,679.2 L923.0,679.4 L923.8,679.5 L924.5,679.7 L925.2,679.8 L926.0,679.9 L926.8,680.0 L927.5,680.1 L928.2,680.2 L929.0,680.3 L929.8,680.4 L930.5,680.4 L931.2,680.5 L932.0,680.5 L932.8,680.5 L933.5,680.5 L934.2,680.5 L935.0,680.5 L935.8,680.4 L936.5,680.4 L937.2,680.3 L938.0,680.3 L938.8,680.2 L939.5,680.1 L940.2,680.0 L941.0,679.9 L941.8,679.8 L942.5,679.7 L943.2,679.6 L944.0,679.4 L944.8,679.3 L945.5,679.1 L946.2,679.0 L947.0,678.8 L947.8,678.7 L948.5,678.5 L949.2,678.4 L950.0,678.2 L950.8,678.0 L951.5,677.9 L952.2,677.7 L953.0,677.6 L953.8,677.4 L954.5,677.3 L955.2,677.1 L956.0,677.0 L956.8,676.8 L957.5,676.7 L958.2,676.6 L959.0,676.5 L959.8,676.4 L960.5,676.3 L961.2,676.2 L962.0,676.1 L962.8,676.0 L963.5,676.0 L964.2,675.9 L965.0,675.9 L965.8,675.8 L966.5,675.8 L967.2,675.8 L968.0,675.8 L968.8,675.8 L969.5,675.8 L970.2,675.9 L971.0,675.9 L971.8,676.0 L972.5,676.0 L973.2,676.1 L974.0,676.2 L974.8,676.2 L975.5,676.3 L976.2,676.4 L977.0,676.6 L977.8,676.7 L978.5,676.8 L979.2,676.9 L980.0,677.1 L980.8,677.2 L981.5,677.3 L982.2,677.5 L983.0,677.6 L983.8,677.8 L984.5,677.9 L985.2,678.1 L986.0,678.2 L986.8,678.4 L987.5,678.5 L988.2,678.7 L989.0,678.8 L989.8,679.0 L990.5,679.1 L991.2,679.3 L992.0,679.4 L992.8,679.5 L993.5,679.6 L994.2,679.7 L995.0,679.8 L995.8,679.9 L996.5,680.0 L997.2,680.1 L998.0,680.2 L998.8,680.3 L999.5,680.3"/>
</g>
<text transform="translate(117.20,716.00) scale(1.000,1.050)" font-size="27.20" text-anchor="middle">1500</text>
<text transform="translate(205.40,716.00) scale(1.000,1.050)" font-size="27.20" text-anchor="middle">1510</text>
<text transform="translate(293.60,716.00) scale(1.000,1.050)" font-size="27.20" text-anchor="middle">1520</text>
<text transform="translate(381.80,716.00) scale(1.000,1.050)" font-size="27.20" text-anchor="middle">1530</text>
<text transform="translate(470.00,716.00) scale(1.000,1.050)" font-size="27.20" text-anchor="middle">1540</text>
<text transform="translate(558.20,716.00) scale(1.000,1.050)" font-size="27.20" text-anchor="middle">1550</text>
<text transform="translate(646.40,716.00) scale(1.000,1.050)" font-size="27.20" text-anchor="middle">1560</text>
<text transform="translate(734.60,716.00) scale(1.000,1.050)" font-size="27.20" text-anchor="middle">1570</text>
<text transform="translate(822.80,716.00) scale(1.000,1.050)" font-size="27.20" text-anchor="middle">1580</text>
<text transform="translate(911.00,716.00) scale(1.000,1.050)" font-size="27.20" text-anchor="middle">1590</text>
<text transform="translate(999.20,716.00) scale(1.000,1.050)" font-size="27.20" text-anchor="middle">1600</text>
<text transform="translate(107.60,690.10) scale(1.000,1.050)" font-size="27.20" text-anchor="end">0%</text>
<text transform="translate(107.60,354.10) scale(1.000,1.050)" font-size="27.20" text-anchor="end">50%</text>
<text transform="translate(107.60,18.10) scale(1.000,1.050)" font-size="27.20" text-anchor="end">100%</text>
<text transform="translate(557.00,751.00) scale(1.000,1.035)" font-size="30.00" text-anchor="middle">Wavelength(nm)</text>
<g transform="translate(11.5,372.8) rotate(-90)"><text transform="translate(0.00,0.00) scale(0.900,1.000)" font-size="31.50" class="i">η</text><text x="16.40" y="17.20" font-size="25.30">MC</text></g>
<path d="M729.5,47H788.2" stroke="#ff0000" stroke-width="4" fill="none"/>
<path d="M729.5,90H788.2" stroke="#0000ff" stroke-width="4" stroke-dasharray="12.2 11.2" fill="none"/>
<text transform="translate(789.00,50.30) scale(1.150,1.000)" font-size="25.30" class="i" style="fill:#000">f</text>
<text transform="translate(801.50,62.20) scale(1.000,1.040)" font-size="18.40" style="fill:#000">1</text>
<text x="811.50" y="50.30" font-size="25.30" class="i" style="fill:#000">M</text>
<text transform="translate(834.00,62.20) scale(1.000,1.040)" font-size="18.40" style="fill:#000">0</text>
<text transform="translate(844.00,62.20) scale(1.000,1.040)" font-size="18.40" class="i" style="fill:#000">z</text>
<text transform="translate(858.00,50.30) scale(1.150,1.040)" font-size="24.00" style="fill:#000">=</text>
<text transform="translate(789.00,96.70) scale(1.150,1.000)" font-size="25.30" class="i" style="fill:#000">f</text>
<text transform="translate(801.50,108.60) scale(1.000,1.040)" font-size="18.40" style="fill:#000">1</text>
<text x="811.50" y="96.70" font-size="25.30" class="i" style="fill:#000">M</text>
<text transform="translate(834.00,108.60) scale(1.000,1.040)" font-size="18.40" style="fill:#000">0</text>
<text transform="translate(844.00,108.60) scale(1.000,1.040)" font-size="18.40" class="i" style="fill:#000">z</text>
<text transform="translate(858.00,96.70) scale(1.150,1.040)" font-size="24.00" style="fill:#000">=</text>
<text transform="translate(878.50,50.30) scale(1.000,1.040)" font-size="24.60" style="fill:#000">0</text>
<text transform="translate(879.00,96.70) scale(1.000,1.040)" font-size="24.40" style="fill:#000">1.45×10</text>
<text transform="translate(960.20,84.50) scale(1.100,1.040)" font-size="18.40" style="fill:#000">-4</text>
</svg></body></html>
